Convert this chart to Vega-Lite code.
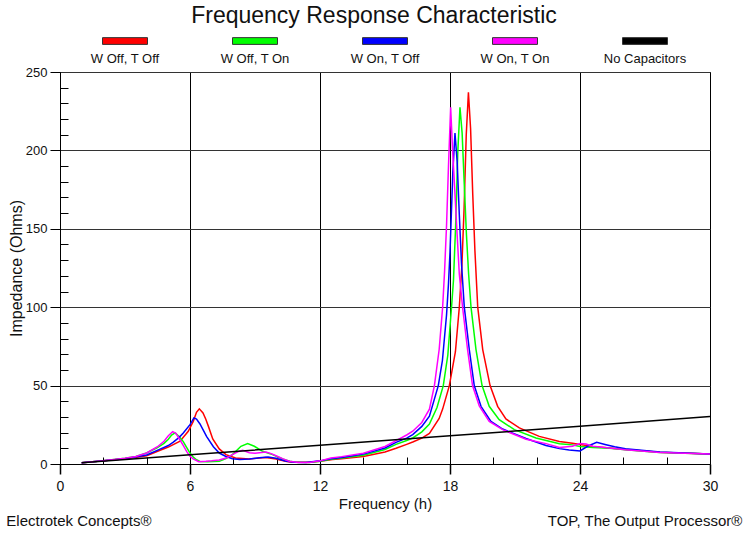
{
  "$schema": "https://vega.github.io/schema/vega-lite/v6.json",
  "background": "white",
  "padding": {"left": 5, "top": 5, "right": 5, "bottom": 5},
  "bounds": "flush",
  "spacing": 4,
  "title": {"text": "TOP, The Output Processor®", "orient": "bottom", "anchor": "end", "frame": "bounds", "font": "Liberation Sans", "fontSize": 15, "fontWeight": "normal", "color": "#111", "offset": 0, "dy": -16, "dx": 24},
  "datasets": {
    "legend": [
      {"series": "W Off, T Off"},
      {"series": "W Off, T On"},
      {"series": "W On, T Off"},
      {"series": "W On, T On"},
      {"series": "No Capacitors"}
    ],
    "curves": [
      {"series": "W Off, T Off", "frequency": 1, "impedance": 0.8},
      {"series": "W Off, T Off", "frequency": 2, "impedance": 2.0},
      {"series": "W Off, T Off", "frequency": 3, "impedance": 3.3},
      {"series": "W Off, T Off", "frequency": 3.7, "impedance": 4.6},
      {"series": "W Off, T Off", "frequency": 4, "impedance": 5.3},
      {"series": "W Off, T Off", "frequency": 4.62, "impedance": 8.8},
      {"series": "W Off, T Off", "frequency": 5.0, "impedance": 10.8},
      {"series": "W Off, T Off", "frequency": 5.54, "impedance": 14.5},
      {"series": "W Off, T Off", "frequency": 5.92, "impedance": 20.9},
      {"series": "W Off, T Off", "frequency": 6.15, "impedance": 27.2},
      {"series": "W Off, T Off", "frequency": 6.3, "impedance": 33.0},
      {"series": "W Off, T Off", "frequency": 6.43, "impedance": 35.2},
      {"series": "W Off, T Off", "frequency": 6.6, "impedance": 32.6},
      {"series": "W Off, T Off", "frequency": 6.73, "impedance": 28.5},
      {"series": "W Off, T Off", "frequency": 6.85, "impedance": 24.0},
      {"series": "W Off, T Off", "frequency": 7.05, "impedance": 16.0},
      {"series": "W Off, T Off", "frequency": 7.35, "impedance": 9.6},
      {"series": "W Off, T Off", "frequency": 7.66, "impedance": 6.0},
      {"series": "W Off, T Off", "frequency": 8.1, "impedance": 3.8},
      {"series": "W Off, T Off", "frequency": 8.74, "impedance": 3.2},
      {"series": "W Off, T Off", "frequency": 9.5, "impedance": 4.2},
      {"series": "W Off, T Off", "frequency": 9.97, "impedance": 3.2},
      {"series": "W Off, T Off", "frequency": 10.4, "impedance": 1.8},
      {"series": "W Off, T Off", "frequency": 10.7, "impedance": 1.1},
      {"series": "W Off, T Off", "frequency": 11.5, "impedance": 1.1},
      {"series": "W Off, T Off", "frequency": 12.0, "impedance": 1.8},
      {"series": "W Off, T Off", "frequency": 12.58, "impedance": 2.8},
      {"series": "W Off, T Off", "frequency": 13.0, "impedance": 3.4},
      {"series": "W Off, T Off", "frequency": 14.0, "impedance": 4.8},
      {"series": "W Off, T Off", "frequency": 15.0, "impedance": 7.6},
      {"series": "W Off, T Off", "frequency": 15.51, "impedance": 10.0},
      {"series": "W Off, T Off", "frequency": 16.0, "impedance": 12.5},
      {"series": "W Off, T Off", "frequency": 16.28, "impedance": 14.0},
      {"series": "W Off, T Off", "frequency": 16.7, "impedance": 16.5},
      {"series": "W Off, T Off", "frequency": 17.05, "impedance": 19.5},
      {"series": "W Off, T Off", "frequency": 17.5, "impedance": 29},
      {"series": "W Off, T Off", "frequency": 17.66, "impedance": 35},
      {"series": "W Off, T Off", "frequency": 17.97, "impedance": 50},
      {"series": "W Off, T Off", "frequency": 18.25, "impedance": 71.6},
      {"series": "W Off, T Off", "frequency": 18.43, "impedance": 100},
      {"series": "W Off, T Off", "frequency": 18.55, "impedance": 127},
      {"series": "W Off, T Off", "frequency": 18.65, "impedance": 163},
      {"series": "W Off, T Off", "frequency": 18.75, "impedance": 210},
      {"series": "W Off, T Off", "frequency": 18.85, "impedance": 237},
      {"series": "W Off, T Off", "frequency": 18.95, "impedance": 214},
      {"series": "W Off, T Off", "frequency": 19.05, "impedance": 172},
      {"series": "W Off, T Off", "frequency": 19.15, "impedance": 136},
      {"series": "W Off, T Off", "frequency": 19.28, "impedance": 100},
      {"series": "W Off, T Off", "frequency": 19.51, "impedance": 73},
      {"series": "W Off, T Off", "frequency": 19.85, "impedance": 50},
      {"series": "W Off, T Off", "frequency": 20.2, "impedance": 36.8},
      {"series": "W Off, T Off", "frequency": 20.58, "impedance": 28.7},
      {"series": "W Off, T Off", "frequency": 21.2, "impedance": 23.0},
      {"series": "W Off, T Off", "frequency": 22.12, "impedance": 17.6},
      {"series": "W Off, T Off", "frequency": 23.05, "impedance": 14.4},
      {"series": "W Off, T Off", "frequency": 23.65, "impedance": 13.3},
      {"series": "W Off, T Off", "frequency": 24.0, "impedance": 12.4},
      {"series": "W Off, T Off", "frequency": 24.6, "impedance": 11.1},
      {"series": "W Off, T Off", "frequency": 25.36, "impedance": 10.2},
      {"series": "W Off, T Off", "frequency": 26.1, "impedance": 9.3},
      {"series": "W Off, T Off", "frequency": 27.69, "impedance": 7.5},
      {"series": "W Off, T Off", "frequency": 30, "impedance": 6.4},

      {"series": "W Off, T On", "frequency": 1, "impedance": 0.8},
      {"series": "W Off, T On", "frequency": 2, "impedance": 2.0},
      {"series": "W Off, T On", "frequency": 3, "impedance": 3.6},
      {"series": "W Off, T On", "frequency": 3.5, "impedance": 4.8},
      {"series": "W Off, T On", "frequency": 4, "impedance": 7.0},
      {"series": "W Off, T On", "frequency": 4.5, "impedance": 10.5},
      {"series": "W Off, T On", "frequency": 4.8, "impedance": 13.2},
      {"series": "W Off, T On", "frequency": 5.0, "impedance": 15.8},
      {"series": "W Off, T On", "frequency": 5.15, "impedance": 18.5},
      {"series": "W Off, T On", "frequency": 5.31, "impedance": 19.8},
      {"series": "W Off, T On", "frequency": 5.5, "impedance": 17.5},
      {"series": "W Off, T On", "frequency": 5.69, "impedance": 14.3},
      {"series": "W Off, T On", "frequency": 5.85, "impedance": 10.5},
      {"series": "W Off, T On", "frequency": 6.0, "impedance": 7.0},
      {"series": "W Off, T On", "frequency": 6.15, "impedance": 4.5},
      {"series": "W Off, T On", "frequency": 6.3, "impedance": 2.7},
      {"series": "W Off, T On", "frequency": 6.46, "impedance": 1.6},
      {"series": "W Off, T On", "frequency": 6.8, "impedance": 1.4},
      {"series": "W Off, T On", "frequency": 7.35, "impedance": 1.7},
      {"series": "W Off, T On", "frequency": 7.66, "impedance": 3.5},
      {"series": "W Off, T On", "frequency": 7.96, "impedance": 6.0},
      {"series": "W Off, T On", "frequency": 8.35, "impedance": 11.3},
      {"series": "W Off, T On", "frequency": 8.66, "impedance": 13.0},
      {"series": "W Off, T On", "frequency": 8.97, "impedance": 11.3},
      {"series": "W Off, T On", "frequency": 9.35, "impedance": 8.1},
      {"series": "W Off, T On", "frequency": 9.81, "impedance": 6.0},
      {"series": "W Off, T On", "frequency": 10.27, "impedance": 3.2},
      {"series": "W Off, T On", "frequency": 10.6, "impedance": 1.8},
      {"series": "W Off, T On", "frequency": 10.89, "impedance": 1.1},
      {"series": "W Off, T On", "frequency": 11.5, "impedance": 1.0},
      {"series": "W Off, T On", "frequency": 12.0, "impedance": 1.8},
      {"series": "W Off, T On", "frequency": 12.5, "impedance": 3.0},
      {"series": "W Off, T On", "frequency": 13.0, "impedance": 3.8},
      {"series": "W Off, T On", "frequency": 14.0, "impedance": 5.6},
      {"series": "W Off, T On", "frequency": 15.0, "impedance": 9.3},
      {"series": "W Off, T On", "frequency": 15.51, "impedance": 12.5},
      {"series": "W Off, T On", "frequency": 16.0, "impedance": 15.0},
      {"series": "W Off, T On", "frequency": 16.28, "impedance": 16.6},
      {"series": "W Off, T On", "frequency": 16.7, "impedance": 20.5},
      {"series": "W Off, T On", "frequency": 17.05, "impedance": 25.5},
      {"series": "W Off, T On", "frequency": 17.4, "impedance": 36},
      {"series": "W Off, T On", "frequency": 17.69, "impedance": 50},
      {"series": "W Off, T On", "frequency": 17.9, "impedance": 69.5},
      {"series": "W Off, T On", "frequency": 18.07, "impedance": 100},
      {"series": "W Off, T On", "frequency": 18.16, "impedance": 117},
      {"series": "W Off, T On", "frequency": 18.26, "impedance": 152},
      {"series": "W Off, T On", "frequency": 18.36, "impedance": 199},
      {"series": "W Off, T On", "frequency": 18.46, "impedance": 227.5},
      {"series": "W Off, T On", "frequency": 18.56, "impedance": 211},
      {"series": "W Off, T On", "frequency": 18.66, "impedance": 178},
      {"series": "W Off, T On", "frequency": 18.76, "impedance": 146},
      {"series": "W Off, T On", "frequency": 18.86, "impedance": 121},
      {"series": "W Off, T On", "frequency": 18.97, "impedance": 100},
      {"series": "W Off, T On", "frequency": 19.2, "impedance": 73},
      {"series": "W Off, T On", "frequency": 19.48, "impedance": 50},
      {"series": "W Off, T On", "frequency": 19.81, "impedance": 36.8},
      {"series": "W Off, T On", "frequency": 20.27, "impedance": 28.3},
      {"series": "W Off, T On", "frequency": 20.97, "impedance": 21.9},
      {"series": "W Off, T On", "frequency": 21.97, "impedance": 16.6},
      {"series": "W Off, T On", "frequency": 23.05, "impedance": 12.9},
      {"series": "W Off, T On", "frequency": 23.65, "impedance": 12.2},
      {"series": "W Off, T On", "frequency": 24.0, "impedance": 11.2},
      {"series": "W Off, T On", "frequency": 24.6, "impedance": 10.6},
      {"series": "W Off, T On", "frequency": 25.36, "impedance": 10.0},
      {"series": "W Off, T On", "frequency": 26.1, "impedance": 9.1},
      {"series": "W Off, T On", "frequency": 27.69, "impedance": 7.4},
      {"series": "W Off, T On", "frequency": 30, "impedance": 6.4},

      {"series": "W On, T Off", "frequency": 1, "impedance": 0.8},
      {"series": "W On, T Off", "frequency": 2, "impedance": 2.0},
      {"series": "W On, T Off", "frequency": 3, "impedance": 3.4},
      {"series": "W On, T Off", "frequency": 4, "impedance": 5.8},
      {"series": "W On, T Off", "frequency": 4.62, "impedance": 9.5},
      {"series": "W On, T Off", "frequency": 5.0, "impedance": 11.8},
      {"series": "W On, T Off", "frequency": 5.23, "impedance": 14},
      {"series": "W On, T Off", "frequency": 5.5, "impedance": 17},
      {"series": "W On, T Off", "frequency": 5.69, "impedance": 19.8},
      {"series": "W On, T Off", "frequency": 6.0, "impedance": 25.1},
      {"series": "W On, T Off", "frequency": 6.18, "impedance": 29.4},
      {"series": "W On, T Off", "frequency": 6.3, "impedance": 28.6},
      {"series": "W On, T Off", "frequency": 6.46, "impedance": 25.5},
      {"series": "W On, T Off", "frequency": 6.77, "impedance": 17.5},
      {"series": "W On, T Off", "frequency": 7.08, "impedance": 11.0},
      {"series": "W On, T Off", "frequency": 7.35, "impedance": 7.0},
      {"series": "W On, T Off", "frequency": 7.66, "impedance": 4.8},
      {"series": "W On, T Off", "frequency": 7.96, "impedance": 3.4},
      {"series": "W On, T Off", "frequency": 8.3, "impedance": 2.9},
      {"series": "W On, T Off", "frequency": 8.74, "impedance": 3.2},
      {"series": "W On, T Off", "frequency": 9.2, "impedance": 4.0},
      {"series": "W On, T Off", "frequency": 9.6, "impedance": 4.5},
      {"series": "W On, T Off", "frequency": 9.97, "impedance": 3.7},
      {"series": "W On, T Off", "frequency": 10.4, "impedance": 1.9},
      {"series": "W On, T Off", "frequency": 10.8, "impedance": 1.1},
      {"series": "W On, T Off", "frequency": 11.35, "impedance": 1.0},
      {"series": "W On, T Off", "frequency": 12.0, "impedance": 2.0},
      {"series": "W On, T Off", "frequency": 12.5, "impedance": 3.3},
      {"series": "W On, T Off", "frequency": 13.0, "impedance": 4.2},
      {"series": "W On, T Off", "frequency": 14.0, "impedance": 6.3},
      {"series": "W On, T Off", "frequency": 15.0, "impedance": 10.2},
      {"series": "W On, T Off", "frequency": 15.51, "impedance": 13.8},
      {"series": "W On, T Off", "frequency": 16.0, "impedance": 16.5},
      {"series": "W On, T Off", "frequency": 16.28, "impedance": 18.8},
      {"series": "W On, T Off", "frequency": 16.7, "impedance": 24},
      {"series": "W On, T Off", "frequency": 17.05, "impedance": 30.5},
      {"series": "W On, T Off", "frequency": 17.46, "impedance": 50},
      {"series": "W On, T Off", "frequency": 17.65, "impedance": 66},
      {"series": "W On, T Off", "frequency": 17.84, "impedance": 95},
      {"series": "W On, T Off", "frequency": 17.93, "impedance": 115},
      {"series": "W On, T Off", "frequency": 18.0, "impedance": 135},
      {"series": "W On, T Off", "frequency": 18.13, "impedance": 186},
      {"series": "W On, T Off", "frequency": 18.23, "impedance": 211},
      {"series": "W On, T Off", "frequency": 18.33, "impedance": 193},
      {"series": "W On, T Off", "frequency": 18.43, "impedance": 159},
      {"series": "W On, T Off", "frequency": 18.53, "impedance": 128},
      {"series": "W On, T Off", "frequency": 18.66, "impedance": 100},
      {"series": "W On, T Off", "frequency": 18.89, "impedance": 73},
      {"series": "W On, T Off", "frequency": 19.12, "impedance": 50},
      {"series": "W On, T Off", "frequency": 19.43, "impedance": 36.8},
      {"series": "W On, T Off", "frequency": 19.89, "impedance": 27.2},
      {"series": "W On, T Off", "frequency": 20.43, "impedance": 22.3},
      {"series": "W On, T Off", "frequency": 21.51, "impedance": 16.3},
      {"series": "W On, T Off", "frequency": 22.43, "impedance": 11.8},
      {"series": "W On, T Off", "frequency": 23.05, "impedance": 9.8},
      {"series": "W On, T Off", "frequency": 23.5, "impedance": 9.0},
      {"series": "W On, T Off", "frequency": 24.0, "impedance": 8.3},
      {"series": "W On, T Off", "frequency": 24.35, "impedance": 11.3},
      {"series": "W On, T Off", "frequency": 24.77, "impedance": 13.8},
      {"series": "W On, T Off", "frequency": 25.2, "impedance": 12.3},
      {"series": "W On, T Off", "frequency": 25.6, "impedance": 11.0},
      {"series": "W On, T Off", "frequency": 26.1, "impedance": 9.8},
      {"series": "W On, T Off", "frequency": 27.69, "impedance": 7.6},
      {"series": "W On, T Off", "frequency": 30, "impedance": 6.4},

      {"series": "W On, T On", "frequency": 1, "impedance": 0.8},
      {"series": "W On, T On", "frequency": 2, "impedance": 2.0},
      {"series": "W On, T On", "frequency": 3, "impedance": 3.6},
      {"series": "W On, T On", "frequency": 3.5, "impedance": 4.8},
      {"series": "W On, T On", "frequency": 4, "impedance": 7.0},
      {"series": "W On, T On", "frequency": 4.5, "impedance": 11.0},
      {"series": "W On, T On", "frequency": 4.8, "impedance": 14.5},
      {"series": "W On, T On", "frequency": 5.0, "impedance": 18.0},
      {"series": "W On, T On", "frequency": 5.2, "impedance": 20.6},
      {"series": "W On, T On", "frequency": 5.35, "impedance": 19.5},
      {"series": "W On, T On", "frequency": 5.54, "impedance": 15.3},
      {"series": "W On, T On", "frequency": 5.7, "impedance": 11.5},
      {"series": "W On, T On", "frequency": 5.85, "impedance": 7.9},
      {"series": "W On, T On", "frequency": 6.0, "impedance": 5.0},
      {"series": "W On, T On", "frequency": 6.15, "impedance": 3.2},
      {"series": "W On, T On", "frequency": 6.4, "impedance": 1.5},
      {"series": "W On, T On", "frequency": 6.73, "impedance": 1.7},
      {"series": "W On, T On", "frequency": 7.0, "impedance": 2.0},
      {"series": "W On, T On", "frequency": 7.35, "impedance": 2.5},
      {"series": "W On, T On", "frequency": 7.7, "impedance": 4.0},
      {"series": "W On, T On", "frequency": 7.96, "impedance": 6.0},
      {"series": "W On, T On", "frequency": 8.2, "impedance": 7.8},
      {"series": "W On, T On", "frequency": 8.43, "impedance": 8.7},
      {"series": "W On, T On", "frequency": 8.74, "impedance": 7.2},
      {"series": "W On, T On", "frequency": 9.0, "impedance": 6.9},
      {"series": "W On, T On", "frequency": 9.3, "impedance": 7.4},
      {"series": "W On, T On", "frequency": 9.5, "impedance": 7.6},
      {"series": "W On, T On", "frequency": 9.75, "impedance": 6.6},
      {"series": "W On, T On", "frequency": 9.97, "impedance": 5.3},
      {"series": "W On, T On", "frequency": 10.3, "impedance": 3.3},
      {"series": "W On, T On", "frequency": 10.58, "impedance": 1.8},
      {"series": "W On, T On", "frequency": 11.0, "impedance": 0.9},
      {"series": "W On, T On", "frequency": 11.5, "impedance": 1.0},
      {"series": "W On, T On", "frequency": 12.0, "impedance": 2.0},
      {"series": "W On, T On", "frequency": 12.5, "impedance": 3.8},
      {"series": "W On, T On", "frequency": 13.0, "impedance": 4.7},
      {"series": "W On, T On", "frequency": 14.0, "impedance": 6.9},
      {"series": "W On, T On", "frequency": 15.0, "impedance": 11.2},
      {"series": "W On, T On", "frequency": 15.51, "impedance": 14.9},
      {"series": "W On, T On", "frequency": 16.0, "impedance": 18.5},
      {"series": "W On, T On", "frequency": 16.28, "impedance": 20.9},
      {"series": "W On, T On", "frequency": 16.7, "impedance": 26.5},
      {"series": "W On, T On", "frequency": 17.05, "impedance": 35},
      {"series": "W On, T On", "frequency": 17.28, "impedance": 50},
      {"series": "W On, T On", "frequency": 17.5, "impedance": 73},
      {"series": "W On, T On", "frequency": 17.66, "impedance": 100},
      {"series": "W On, T On", "frequency": 17.75, "impedance": 123},
      {"series": "W On, T On", "frequency": 17.84, "impedance": 152},
      {"series": "W On, T On", "frequency": 17.93, "impedance": 190},
      {"series": "W On, T On", "frequency": 18.03, "impedance": 227.5},
      {"series": "W On, T On", "frequency": 18.12, "impedance": 200},
      {"series": "W On, T On", "frequency": 18.23, "impedance": 172},
      {"series": "W On, T On", "frequency": 18.33, "impedance": 146},
      {"series": "W On, T On", "frequency": 18.43, "impedance": 121},
      {"series": "W On, T On", "frequency": 18.58, "impedance": 100},
      {"series": "W On, T On", "frequency": 18.81, "impedance": 73},
      {"series": "W On, T On", "frequency": 19.04, "impedance": 50},
      {"series": "W On, T On", "frequency": 19.35, "impedance": 37},
      {"series": "W On, T On", "frequency": 19.81, "impedance": 27.2},
      {"series": "W On, T On", "frequency": 20.43, "impedance": 21.9},
      {"series": "W On, T On", "frequency": 21.51, "impedance": 15.8},
      {"series": "W On, T On", "frequency": 22.43, "impedance": 13.0},
      {"series": "W On, T On", "frequency": 23.05, "impedance": 10.6},
      {"series": "W On, T On", "frequency": 23.65, "impedance": 11.3},
      {"series": "W On, T On", "frequency": 24.0, "impedance": 13.0},
      {"series": "W On, T On", "frequency": 24.28, "impedance": 12.8},
      {"series": "W On, T On", "frequency": 24.59, "impedance": 11.3},
      {"series": "W On, T On", "frequency": 25.36, "impedance": 10.2},
      {"series": "W On, T On", "frequency": 26.1, "impedance": 9.1},
      {"series": "W On, T On", "frequency": 27.69, "impedance": 7.4},
      {"series": "W On, T On", "frequency": 30, "impedance": 6.4},

      {"series": "No Capacitors", "frequency": 1, "impedance": 0.8},
      {"series": "No Capacitors", "frequency": 6, "impedance": 5.9},
      {"series": "No Capacitors", "frequency": 12, "impedance": 12.0},
      {"series": "No Capacitors", "frequency": 18, "impedance": 18.0},
      {"series": "No Capacitors", "frequency": 24, "impedance": 24.0},
      {"series": "No Capacitors", "frequency": 30, "impedance": 30.3}
    ]
  },
  "vconcat": [
    {
      "width": 650,
      "height": 36,
      "view": {"stroke": null},
      "title": {"text": "Frequency Response Characteristic", "anchor": "middle", "frame": "group", "font": "Liberation Sans", "fontSize": 23, "fontWeight": "normal", "color": "#111", "offset": 4, "dx": -11},
      "data": {"name": "legend"},
      "layer": [
        {
          "mark": {"type": "point", "shape": "M-1,-0.15H1V0.15H-1Z", "size": 2025, "filled": true, "opacity": 1, "stroke": "#333", "strokeWidth": 1},
          "encoding": {
            "x": {"field": "series", "type": "nominal", "sort": null, "axis": null, "scale": {"domain": ["W Off, T Off", "W Off, T On", "W On, T Off", "W On, T On", "No Capacitors"]}},
            "y": {"datum": "swatch", "type": "nominal", "axis": null, "scale": {"domain": ["swatch", "label"]}},
            "color": {"field": "series", "type": "nominal", "legend": null, "scale": {"domain": ["W Off, T Off", "W Off, T On", "W On, T Off", "W On, T On", "No Capacitors"], "range": ["#ff0000", "#00ff00", "#0000ff", "#ff00ff", "#000000"]}}
          }
        },
        {
          "mark": {"type": "text", "font": "Liberation Sans", "fontSize": 13, "color": "#111", "baseline": "middle", "align": "center"},
          "encoding": {
            "x": {"field": "series", "type": "nominal", "sort": null, "axis": null},
            "y": {"datum": "label", "type": "nominal", "axis": null},
            "text": {"field": "series", "type": "nominal"}
          }
        }
      ]
    },
    {
      "width": 650,
      "height": 392,
      "title": {"text": "Electrotek Concepts®", "orient": "bottom", "anchor": "start", "frame": "bounds", "font": "Liberation Sans", "fontSize": 15, "fontWeight": "normal", "color": "#111", "offset": 3, "dx": -2},
      "data": {"name": "curves"},
      "mark": {"type": "line", "strokeWidth": 1.5, "clip": true},
      "encoding": {
        "x": {
          "field": "frequency", "type": "quantitative", "title": "Frequency (h)",
          "scale": {"domain": [0, 30], "nice": false},
          "axis": {
            "values": [0, 2, 4, 6, 8, 10, 12, 14, 16, 18, 20, 22, 24, 26, 28, 30],
            "labelExpr": "datum.value % 6 === 0 ? datum.label : ''",
            "tickSize": {"condition": {"test": "datum.value % 6 === 0", "value": 10}, "value": -7},
            "tickWidth": {"condition": {"test": "datum.value % 6 === 0", "value": 1.5}, "value": 1},
            "gridOpacity": {"condition": {"test": "datum.value % 6 === 0", "value": 1}, "value": 0},
            "grid": true, "gridColor": "#000", "gridWidth": 1,
            "domainColor": "#000", "tickColor": "#000",
            "labelFlush": false, "labelOverlap": false,
            "labelFont": "Liberation Sans", "labelFontSize": 14, "labelColor": "#111", "labelPadding": 5,
            "titleFont": "Liberation Sans", "titleFontSize": 15, "titleFontWeight": "normal", "titleColor": "#111", "titlePadding": 3
          }
        },
        "y": {
          "field": "impedance", "type": "quantitative", "title": "Impedance (Ohms)",
          "scale": {"domain": [0, 250], "nice": false},
          "axis": {
            "values": [0, 10, 20, 30, 40, 50, 60, 70, 80, 90, 100, 110, 120, 130, 140, 150, 160, 170, 180, 190, 200, 210, 220, 230, 240, 250],
            "labelExpr": "datum.value % 50 === 0 ? datum.label : ''",
            "tickSize": {"condition": {"test": "datum.value % 50 === 0", "value": 10}, "value": -8},
            "gridOpacity": {"condition": {"test": "datum.value % 50 === 0", "value": 1}, "value": 0},
            "grid": true, "gridColor": "#333", "gridWidth": 1,
            "domainColor": "#000", "tickColor": "#000",
            "labelFlush": false, "labelOverlap": false,
            "labelFont": "Liberation Sans", "labelFontSize": 13, "labelColor": "#111", "labelPadding": 3,
            "titleFont": "Liberation Sans", "titleFontSize": 16, "titleFontWeight": "normal", "titleColor": "#111", "titlePadding": 1
          }
        },
        "color": {
          "field": "series", "type": "nominal", "legend": null,
          "scale": {"domain": ["W Off, T Off", "W Off, T On", "W On, T Off", "W On, T On", "No Capacitors"], "range": ["#ff0000", "#00ff00", "#0000ff", "#ff00ff", "#000000"]}
        }
      }
    }
  ],
  "config": {
    "view": {"stroke": "#000", "strokeWidth": 1},
    "font": "Liberation Sans"
  }
}
